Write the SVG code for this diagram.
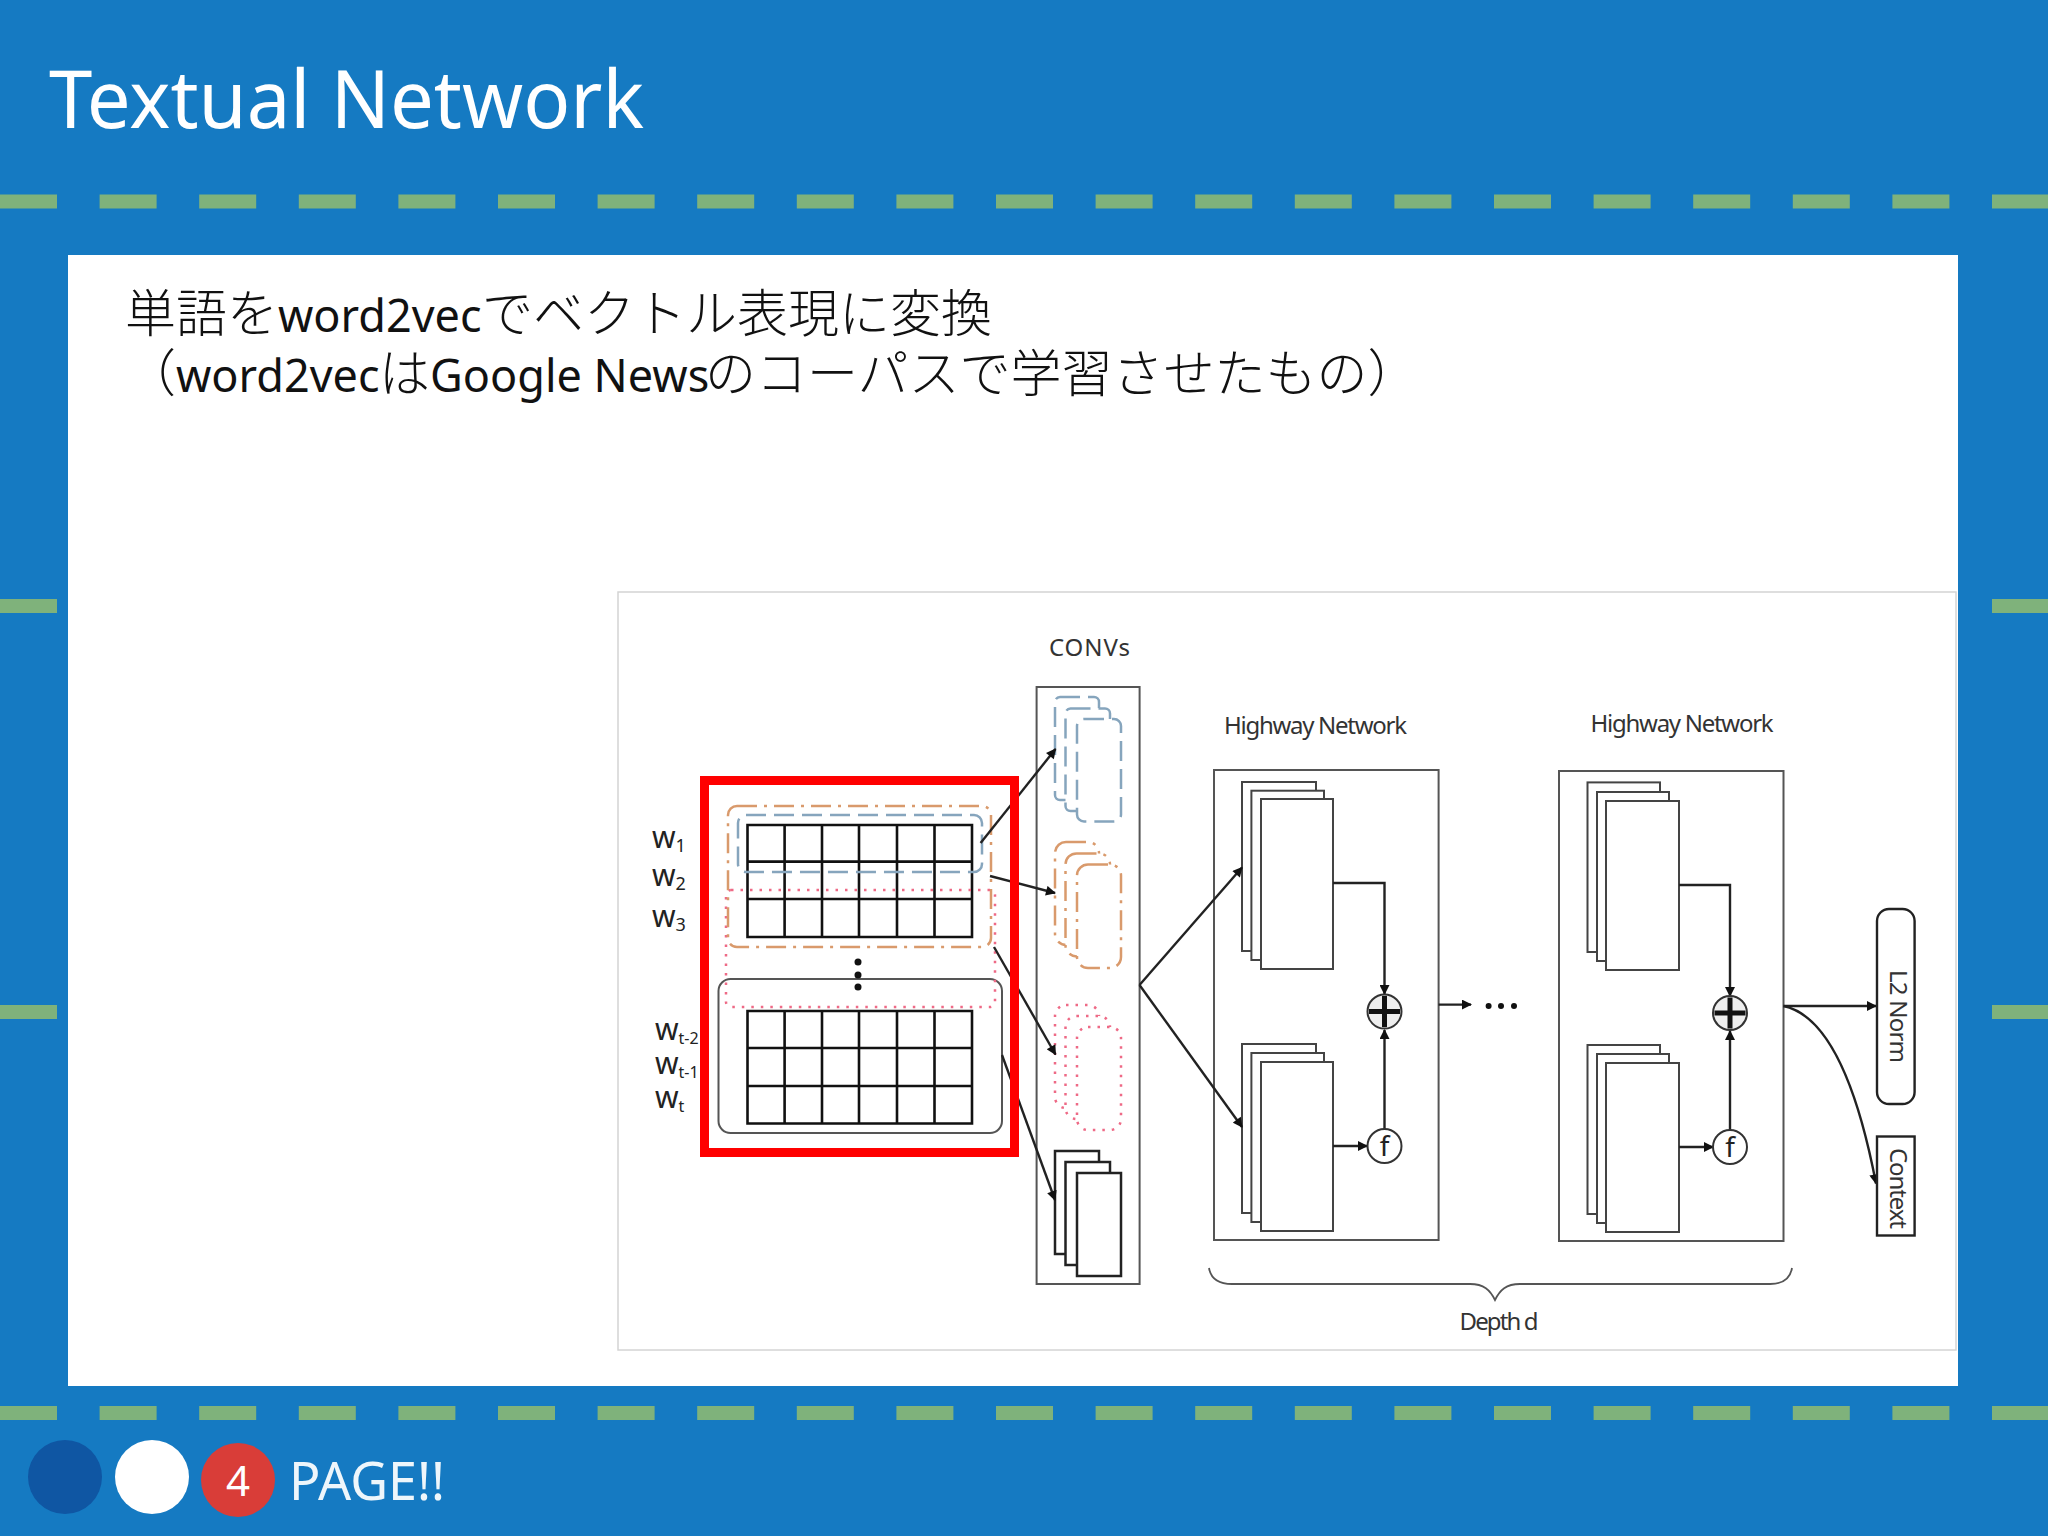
<svg xmlns="http://www.w3.org/2000/svg" width="2048" height="1536" viewBox="0 0 2048 1536">
<style>
text{font-family:"Noto Sans","Open Sans","Liberation Sans",sans-serif}
.jp{font-family:"Noto Sans CJK JP","Noto Sans",sans-serif;font-weight:300;font-size:51px}
.lat{font-size:45px}
.body{font-size:51px;fill:#111}
.dg{font-size:24px;fill:#333}
.w{font-size:30px;fill:#222}
.dash{stroke:#7fb27b;stroke-width:14;fill:none}
.box{fill:#fff;stroke:#555;stroke-width:2}
.blk{fill:#fff;stroke:#222;stroke-width:2.500}
.sb{fill:#fff;stroke:#444;stroke-width:2}
.blue{fill:none;stroke:#86a5bd;stroke-width:2.500;stroke-dasharray:20 8}
.bluef{fill:#fff;stroke:#86a5bd;stroke-width:2.500;stroke-dasharray:20 8}
.or{fill:none;stroke:#d99a6c;stroke-width:2.500;stroke-dasharray:20 7 3 7}
.orf{fill:#fff;stroke:#d99a6c;stroke-width:2.500;stroke-dasharray:20 7 3 7}
.pk{fill:none;stroke:#ee6a86;stroke-width:2.500;stroke-dasharray:2.500 7}
.pkf{fill:#fff;stroke:#ee6a86;stroke-width:2.500;stroke-dasharray:2.500 7}
.c{fill:none;stroke:#222;stroke-width:2.400}
.br{fill:none;stroke:#555;stroke-width:1.800}
.a{marker-end:url(#ah)}
.grid{fill:#fff;stroke:#111;stroke-width:2.600}
</style>
<defs>
<marker id="ah" viewBox="0 0 10 10" refX="9" refY="5" markerWidth="12" markerHeight="10" markerUnits="userSpaceOnUse" orient="auto"><path d="M0 0L10 5L0 10z" fill="#111"/></marker>
</defs>
<rect width="2048" height="1536" fill="#157ac2"/>
<g id="decor">
<path class="dash" d="M0 201.500H2048" stroke-dasharray="57 42.600"/>
<path class="dash" d="M0 1413H2048" stroke-dasharray="57 42.600"/>
<path class="dash" d="M0 606H57M1992 606H2048M0 1012H57M1992 1012H2048"/>
</g>
<rect id="panel" x="68" y="255" width="1890" height="1131" fill="#fff"/>
<text id="title" x="49" y="128" font-size="80" fill="#fff" textLength="595" lengthAdjust="spacingAndGlyphs">Textual Network</text>
<g id="body-text">
<text class="body" y="332"><tspan class="jp" x="125">単語を</tspan><tspan class="lat" x="278">word2vec</tspan><tspan class="jp" x="482">でベクトル表現に変換</tspan></text>
<text class="body" y="392"><tspan class="jp" x="125">（</tspan><tspan class="lat" x="176">word2vec</tspan><tspan class="jp" x="379">は</tspan><tspan class="lat" x="430">Google News</tspan><tspan class="jp" x="705">のコーパスで学習させたもの）</tspan></text>
</g>
<g id="footer">
<circle cx="65" cy="1477" r="37" fill="#0f56a3"/>
<circle cx="152" cy="1477" r="37" fill="#fff"/>
<circle cx="238" cy="1480" r="37" fill="#d93d38"/>
<text x="238" y="1496" font-size="42" fill="#fff" text-anchor="middle">4</text>
<text x="289" y="1500" font-size="52" fill="#eef6fb" textLength="156">PAGE!!</text>
</g>
<rect id="frame" x="618" y="592" width="1338" height="758" fill="#fff" stroke="#d4d4d4" stroke-width="1.500"/>
<g id="word-labels">
<text class="w" x="652" y="848">w<tspan font-size="18" dy="4">1</tspan></text>
<text class="w" x="652" y="886">w<tspan font-size="18" dy="4">2</tspan></text>
<text class="w" x="652" y="927">w<tspan font-size="18" dy="4">3</tspan></text>
<text class="w" x="655" y="1040">w<tspan font-size="16" dy="4">t-2</tspan></text>
<text class="w" x="655" y="1074">w<tspan font-size="16" dy="4">t-1</tspan></text>
<text class="w" x="655" y="1108">w<tspan font-size="16" dy="4">t</tspan></text>
</g>
<g id="matrix-top">
<path class="grid" d="M747.500 825H972V937H747.500ZM784.600 825V937M822 825V937M859 825V937M897 825V937M934.500 825V937M747.500 861.600H972M747.500 899H972"/>
</g>
<g id="matrix-bottom">
<rect x="718.500" y="979" width="283.500" height="154" rx="12" fill="none" stroke="#555" stroke-width="2"/>
<path class="grid" d="M747.500 1011H972V1123.500H747.500ZM784.600 1011V1123.500M822 1011V1123.500M859 1011V1123.500M897 1011V1123.500M934.500 1011V1123.500M747.500 1048H972M747.500 1086H972"/>
</g>
<g id="filter-windows">
<rect class="pk" x="726" y="890" width="269" height="117" rx="5"/>
<rect class="or" x="728" y="806" width="263" height="141" rx="9"/>
<rect class="blue" x="738" y="815" width="244" height="57" rx="8"/>
<circle cx="858" cy="962" r="3.500" fill="#111"/><circle cx="858" cy="975" r="3.500" fill="#111"/><circle cx="858" cy="987" r="3.500" fill="#111"/>
</g>
<g id="convs">
<text class="dg" x="1049" y="656" textLength="81">CONVs</text>
<rect class="box" x="1036.600" y="687" width="103" height="597"/>
<rect class="bluef" x="1055" y="697" width="44" height="103" rx="5"/><rect class="bluef" x="1065.500" y="708.500" width="44.500" height="102.500" rx="5"/><rect class="bluef" x="1077" y="719" width="44" height="102.500" rx="7"/>
<rect class="orf" x="1055" y="842" width="44" height="103" rx="11"/><rect class="orf" x="1065.500" y="853.400" width="44.500" height="103" rx="11"/><rect class="orf" x="1077" y="864.400" width="44" height="103.600" rx="11"/>
<rect class="pkf" x="1055" y="1005" width="44" height="103" rx="11"/><rect class="pkf" x="1065.500" y="1016" width="44.500" height="103" rx="11"/><rect class="pkf" x="1077" y="1027" width="44" height="103" rx="11"/>
<rect class="blk" x="1055" y="1151" width="44" height="103"/><rect class="blk" x="1065.500" y="1162" width="44.500" height="103"/><rect class="blk" x="1077" y="1173" width="44" height="103"/>
</g>
<g id="highway-1">
<text class="dg" x="1224" y="734" textLength="183">Highway Network</text>
<rect class="box" x="1214" y="770" width="224.600" height="470"/>
<rect class="sb" x="1242" y="782" width="74" height="169"/><rect class="sb" x="1251.400" y="790.700" width="72.600" height="169.300"/><rect class="sb" x="1261" y="799" width="72" height="170"/>
<rect class="sb" x="1242" y="1044" width="74" height="169"/><rect class="sb" x="1251.400" y="1053" width="72.600" height="169"/><rect class="sb" x="1261" y="1062" width="72" height="169"/>
</g>
<g id="highway-2">
<text class="dg" x="1590.600" y="732" textLength="183">Highway Network</text>
<rect class="box" x="1559" y="771" width="224.500" height="470"/>
<rect class="sb" x="1587.500" y="782.400" width="72.500" height="169.600"/><rect class="sb" x="1597" y="792" width="72" height="169"/><rect class="sb" x="1606" y="801" width="73" height="169"/>
<rect class="sb" x="1587.500" y="1045" width="72.500" height="169"/><rect class="sb" x="1597" y="1054" width="72" height="169"/><rect class="sb" x="1606" y="1063" width="73" height="169"/>
</g>
<g id="connectors">
<path class="c a" d="M980.600 843L1055.500 749"/>
<path class="c a" d="M990 876L1055 893"/>
<path class="c a" d="M994 947L1055.500 1054.500"/>
<path class="c a" d="M1002 1055L1055 1200"/>
<path class="c a" d="M1139.500 985L1242 867.500"/>
<path class="c a" d="M1139.500 985L1242 1127"/>
<path class="c a" d="M1333 883H1384.500V994"/>
<path class="c a" d="M1384.500 1129V1030"/>
<path class="c a" d="M1333 1146H1367"/>
<path class="c a" d="M1438.600 1004.600H1471"/>
<path class="c a" d="M1679 885H1730V996"/>
<path class="c a" d="M1730 1130V1031"/>
<path class="c a" d="M1679 1147H1713"/>
<path class="c a" d="M1783.500 1006H1876"/>
<path class="c a" d="M1783.500 1006C1830 1016 1858 1090 1876 1183.500"/>
<path class="br" d="M1209 1268C1211 1280 1220 1284 1232 1284H1470C1484 1284 1490 1290 1495 1300C1500 1290 1506 1284 1520 1284H1770C1782 1284 1790 1280 1792 1268"/>
</g>
<g id="ops">
<g id="plus-1"><circle cx="1384.500" cy="1011.600" r="17" fill="#eee" stroke="#333" stroke-width="2"/><path d="M1369 1011.600H1400M1384.500 996V1027" stroke="#111" stroke-width="5"/></g>
<g id="f-1"><circle cx="1384.500" cy="1146" r="17" fill="#fff" stroke="#333" stroke-width="2"/><text x="1384.500" y="1156" font-size="28" fill="#222" text-anchor="middle">f</text></g>
<g id="plus-2"><circle cx="1730" cy="1013" r="17" fill="#eee" stroke="#333" stroke-width="2"/><path d="M1714.500 1013H1745.500M1730 997.500V1028.500" stroke="#111" stroke-width="5"/></g>
<g id="f-2"><circle cx="1730" cy="1147" r="17" fill="#fff" stroke="#333" stroke-width="2"/><text x="1730" y="1157" font-size="28" fill="#222" text-anchor="middle">f</text></g>
<g id="more"><circle cx="1488.600" cy="1006" r="3" fill="#111"/><circle cx="1501" cy="1006" r="3" fill="#111"/><circle cx="1514" cy="1006" r="3" fill="#111"/></g>
</g>
<g id="l2-norm">
<rect x="1877" y="909" width="37.600" height="195" rx="12" fill="#fff" stroke="#222" stroke-width="2.400"/>
<text class="dg" transform="translate(1890 970) rotate(90)" textLength="93">L2 Norm</text>
</g>
<g id="context">
<rect x="1877" y="1136.500" width="37.600" height="99" fill="#fff" stroke="#222" stroke-width="2.400"/>
<text class="dg" transform="translate(1890 1148) rotate(90)" textLength="81">Context</text>
</g>
<text id="depth" class="dg" x="1459.500" y="1330" textLength="79">Depth d</text>
<rect id="highlight" x="704.500" y="780.500" width="310" height="372" fill="none" stroke="#ff0000" stroke-width="9"/>
</svg>
